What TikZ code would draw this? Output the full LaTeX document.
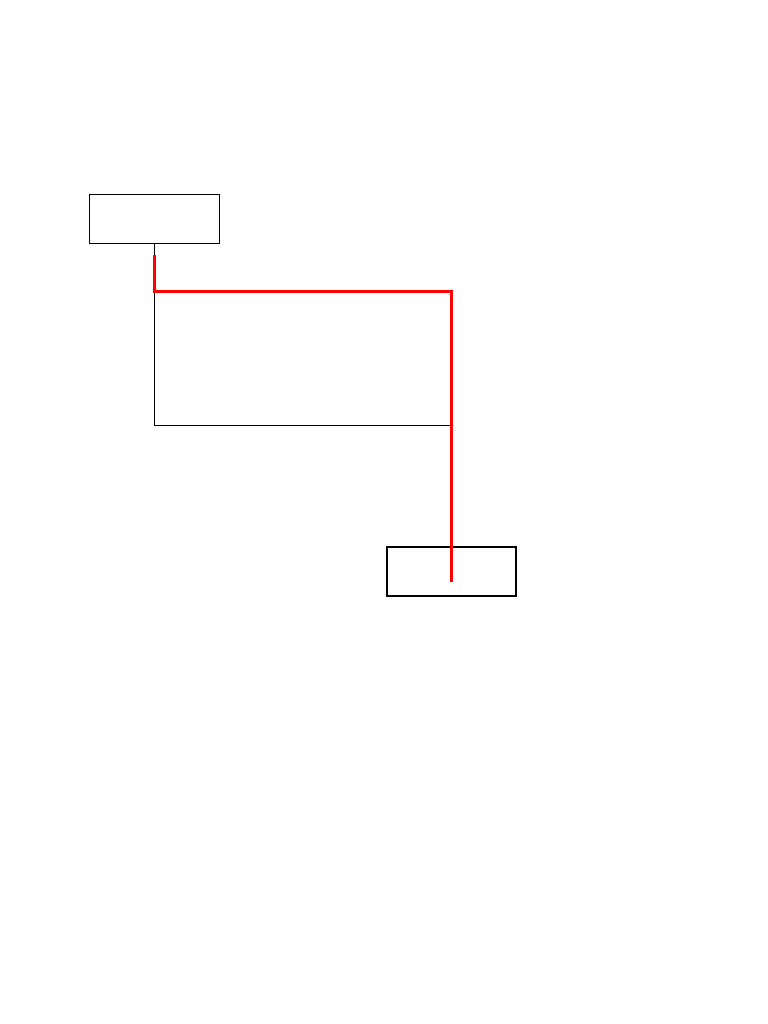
\documentclass[tikz,border=0pt]{standalone}
\begin{document}
\begin{tikzpicture}[x=0.025cm,y=-0.025cm,
    box/.style={draw,minimum width=3.225cm,minimum height=1.225cm,inner sep=0pt,line width=0.7pt},
    link/.style={draw=red,line width=1.5pt}]
    \useasboundingbox (0,0) rectangle (768,1024);

    \node[box] (upper) at (154.5,218.5) {};
    \node[box,line width=1.3pt] (lower) at (451.5,571.5) {};

    \coordinate (bend) at (451.5,425.5);
    \coordinate (start) at (154.5,255);
    \coordinate (corner) at (451.5,291.5);
    \coordinate (stop) at (451.5,582);

    \draw[line width=0.7pt] (upper.south) |- (bend) -- (lower.north);
    \draw[link] (start) |- (corner) -- (stop);
\end{tikzpicture}
\end{document}
